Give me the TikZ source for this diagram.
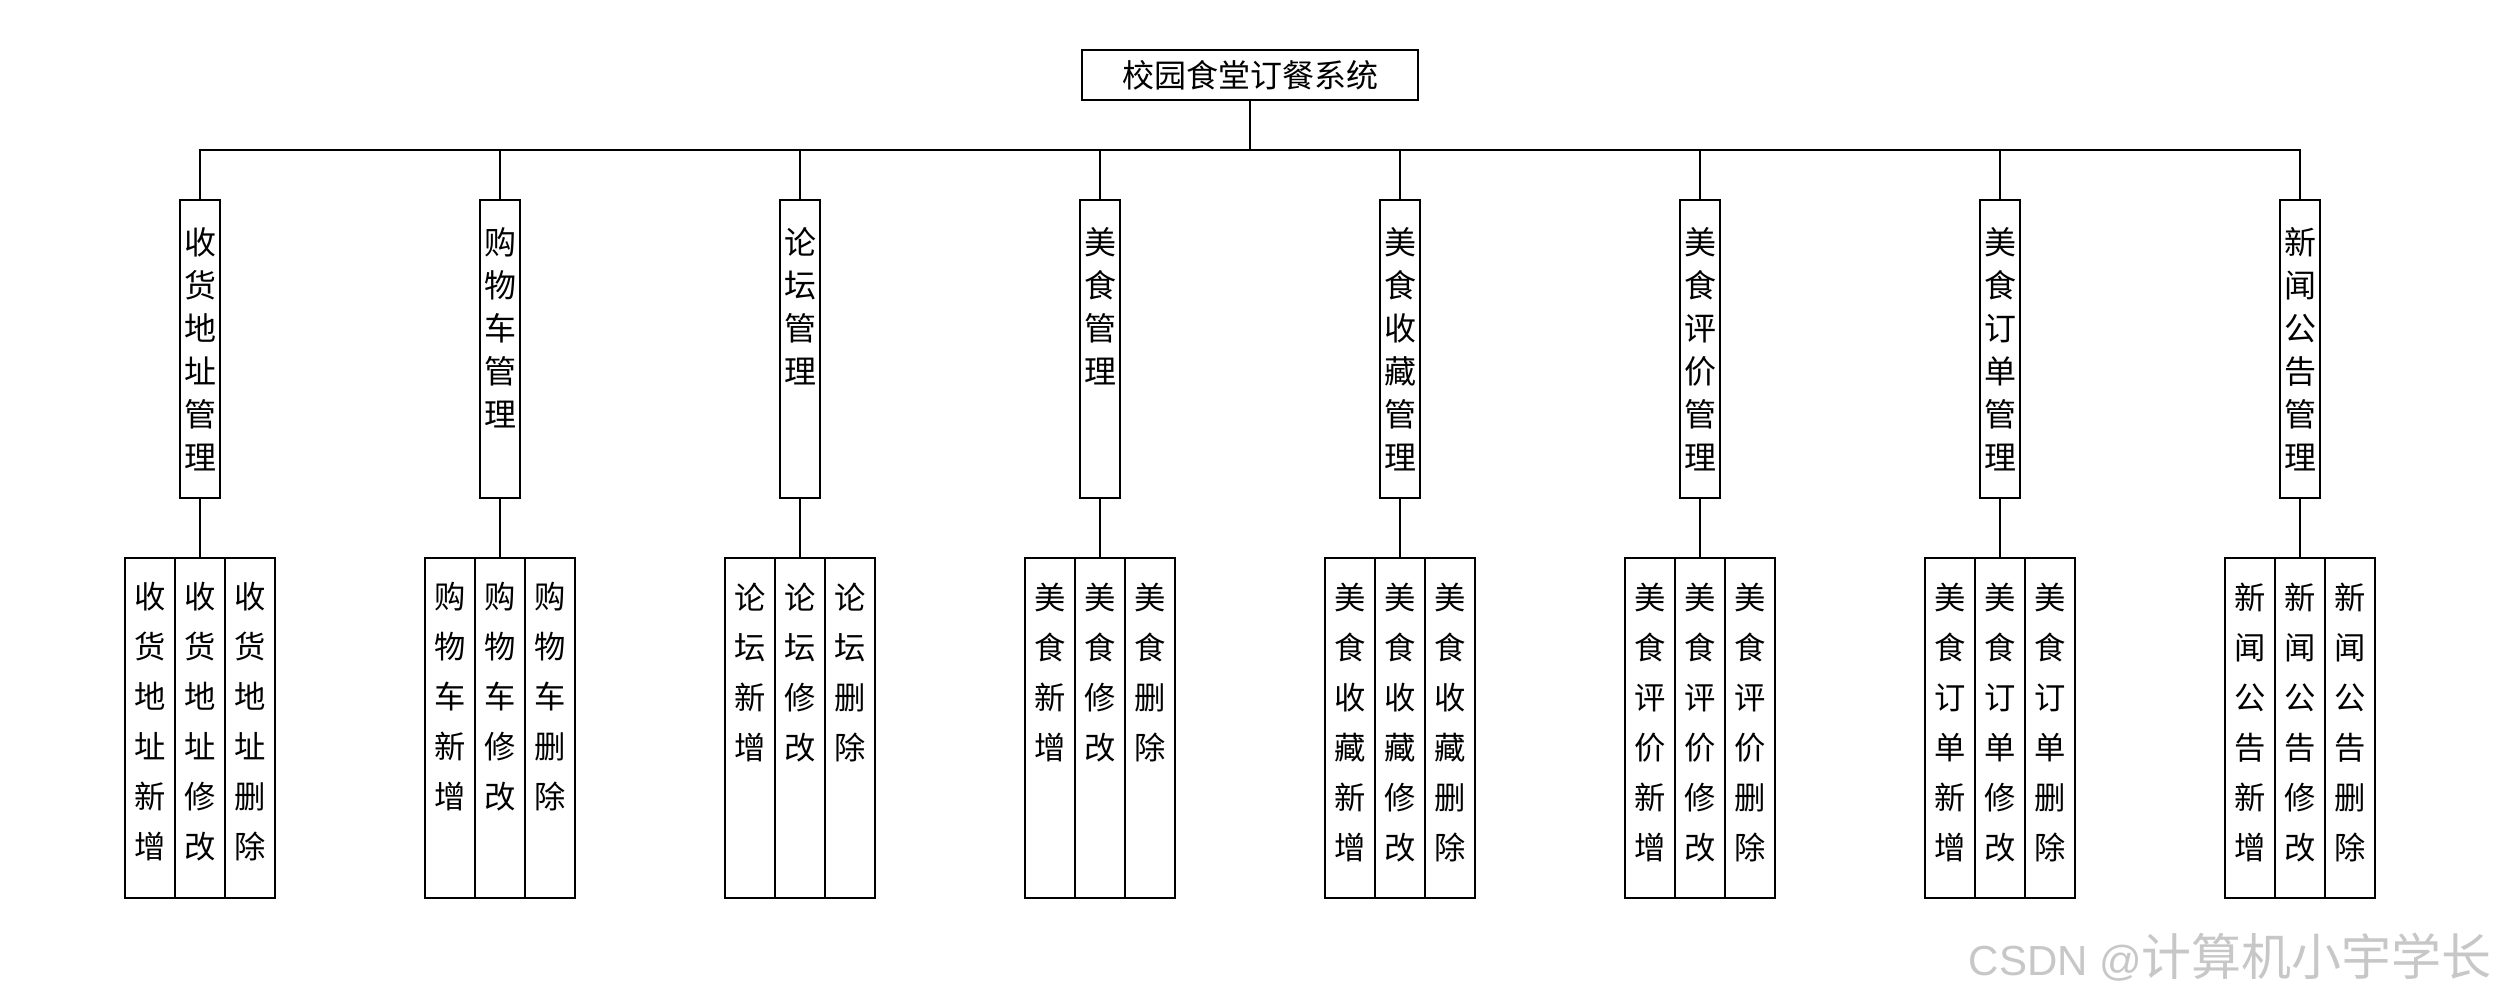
\documentclass[tikz,border=0pt]{standalone}
\usepackage{fontspec}
\newfontfamily\cjk{Noto Sans CJK SC}
\newfontfamily\wmlat{Liberation Sans}
\begin{document}
\begin{tikzpicture}[x=0.3pt,y=-0.3pt,
  box/.style={draw, line width=0.5pt, rectangle, inner sep=0pt, outer sep=0pt},
  l2box/.style={box, minimum width=12pt, minimum height=89.4pt},
  l3box/.style={box, minimum width=15pt, minimum height=102pt},
  vtxt/.style={font=\cjk\fontsize{9.6}{12.9}\selectfont, align=center, inner sep=0pt, anchor=north},
  vthree/.style={font=\cjk\fontsize{9.4}{15}\selectfont, align=center, inner sep=0pt, anchor=north},
  link/.style={line width=0.4pt}]
\fill[white] (0,0) rectangle (2500,1000);
\useasboundingbox (0,0) rectangle (2500,1000);
\node[box, minimum width=100.8pt, minimum height=15pt, font=\cjk\fontsize{9.6}{12}\selectfont] (root) at (1250,75) {校园食堂订餐系统};
\coordinate (bus) at (1250,150);
\foreach \i/\p in {1/{收\\货\\地\\址}, 2/{购\\物\\车}, 3/{论\\坛}, 4/{美\\食}, 5/{美\\食\\收\\藏}, 6/{美\\食\\评\\价}, 7/{美\\食\\订\\单}, 8/{新\\闻\\公\\告}}{
  \pgfmathsetmacro\cx{200+300*(\i-1)}
  \node[l2box] (m\i) at (\cx,349) {};
  \node[vtxt] (mt\i) at ([yshift=-8.1pt]m\i.north) {\p\\管\\理};
  \draw[link] (root.south) -- (root.south |- bus) -| (m\i.north);
  \node[l3box] (a\i) at (\cx-50,728) {};
  \node[l3box] (b\i) at (\cx,728) {};
  \node[l3box] (c\i) at (\cx+50,728) {};
  \node[vthree] (at\i) at ([yshift=-7.2pt]a\i.north) {\p\\新\\增};
  \node[vthree] (bt\i) at ([yshift=-7.2pt]b\i.north) {\p\\修\\改};
  \node[vthree] (ct\i) at ([yshift=-7.2pt]c\i.north) {\p\\删\\除};
  \draw[link] (m\i.south) -- (b\i.north);
}
\node[text=black!22, anchor=base west, inner sep=0pt] (wm) at (1968,975) {\wmlat\fontsize{12.6}{14}\selectfont CSDN @\cjk\fontsize{15}{17}\selectfont 计算机小宇学长};
\end{tikzpicture}
\end{document}
